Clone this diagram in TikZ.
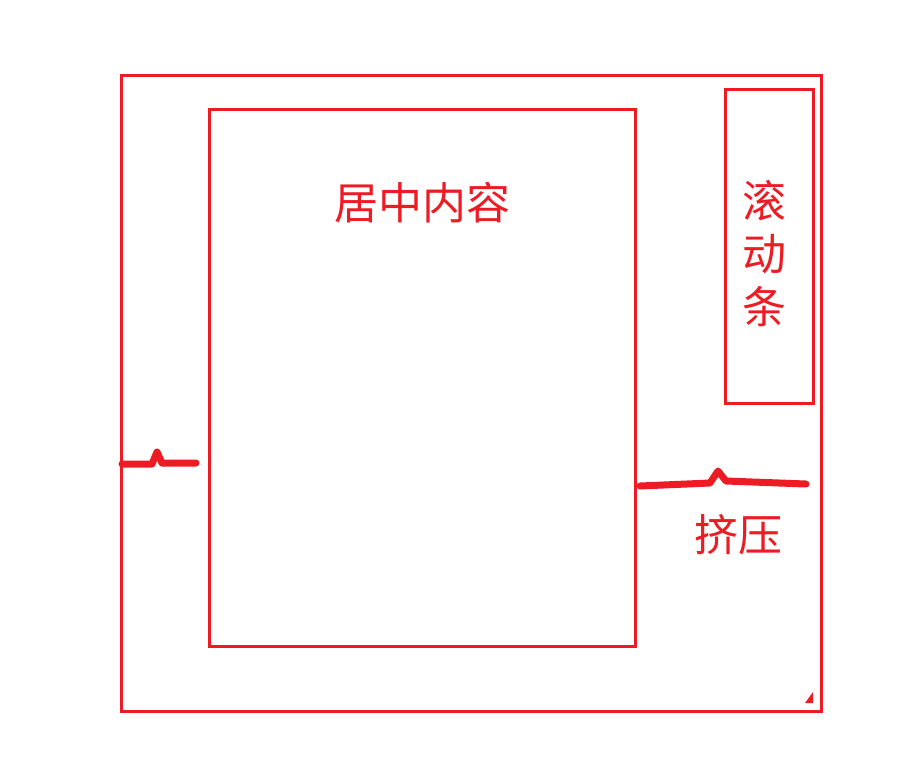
\documentclass[tikz,border=0pt]{standalone}
\usepackage{fontspec}
\newfontfamily\cjk{Noto Sans CJK SC}
\definecolor{pred}{HTML}{ED1C24}
\tikzset{
  box/.style={draw=pred, line width=3pt},
  squig/.style={draw=pred, line width=7pt, line cap=round, line join=round},
  lbl/.style={text=pred, font=\cjk\fontsize{44}{53}\selectfont, inner sep=0pt, align=center},
}
\begin{document}
\begin{tikzpicture}[x=1pt,y=-1pt]
\useasboundingbox (0,0) rectangle (920,756);
\node[box, minimum width=700pt, minimum height=636pt, inner sep=0pt, anchor=north west] (outer) at (119.5,73.5) {};
\node[box, minimum width=426pt, minimum height=537pt, inner sep=0pt, anchor=north west] (inner) at (207.5,107.5) {};
\node[box, minimum width=88pt, minimum height=314pt, inner sep=0pt, anchor=north west] (scroll) at (723.5,87.5) {};
\node[lbl] (center) at (422,203) {居中内容};
\node[lbl] (scrolltxt) at (764,254) {滚\\动\\条};
\node[lbl] (squeeze) at (738,535) {挤压};
\coordinate (la) at (122,464);
\coordinate (lb) at (196,463);
\draw[squig] (la) -- (152,464) -- (157,452) -- (162,463) -- (lb);
\coordinate (ra) at (640,486);
\coordinate (rb) at (806,484);
\draw[squig] (ra) -- (710,483) -- (718,471) -- (726,481) -- (rb);
\fill[pred] (813,692) -- (813,703) -- (805,703) -- cycle;
\end{tikzpicture}
\end{document}
